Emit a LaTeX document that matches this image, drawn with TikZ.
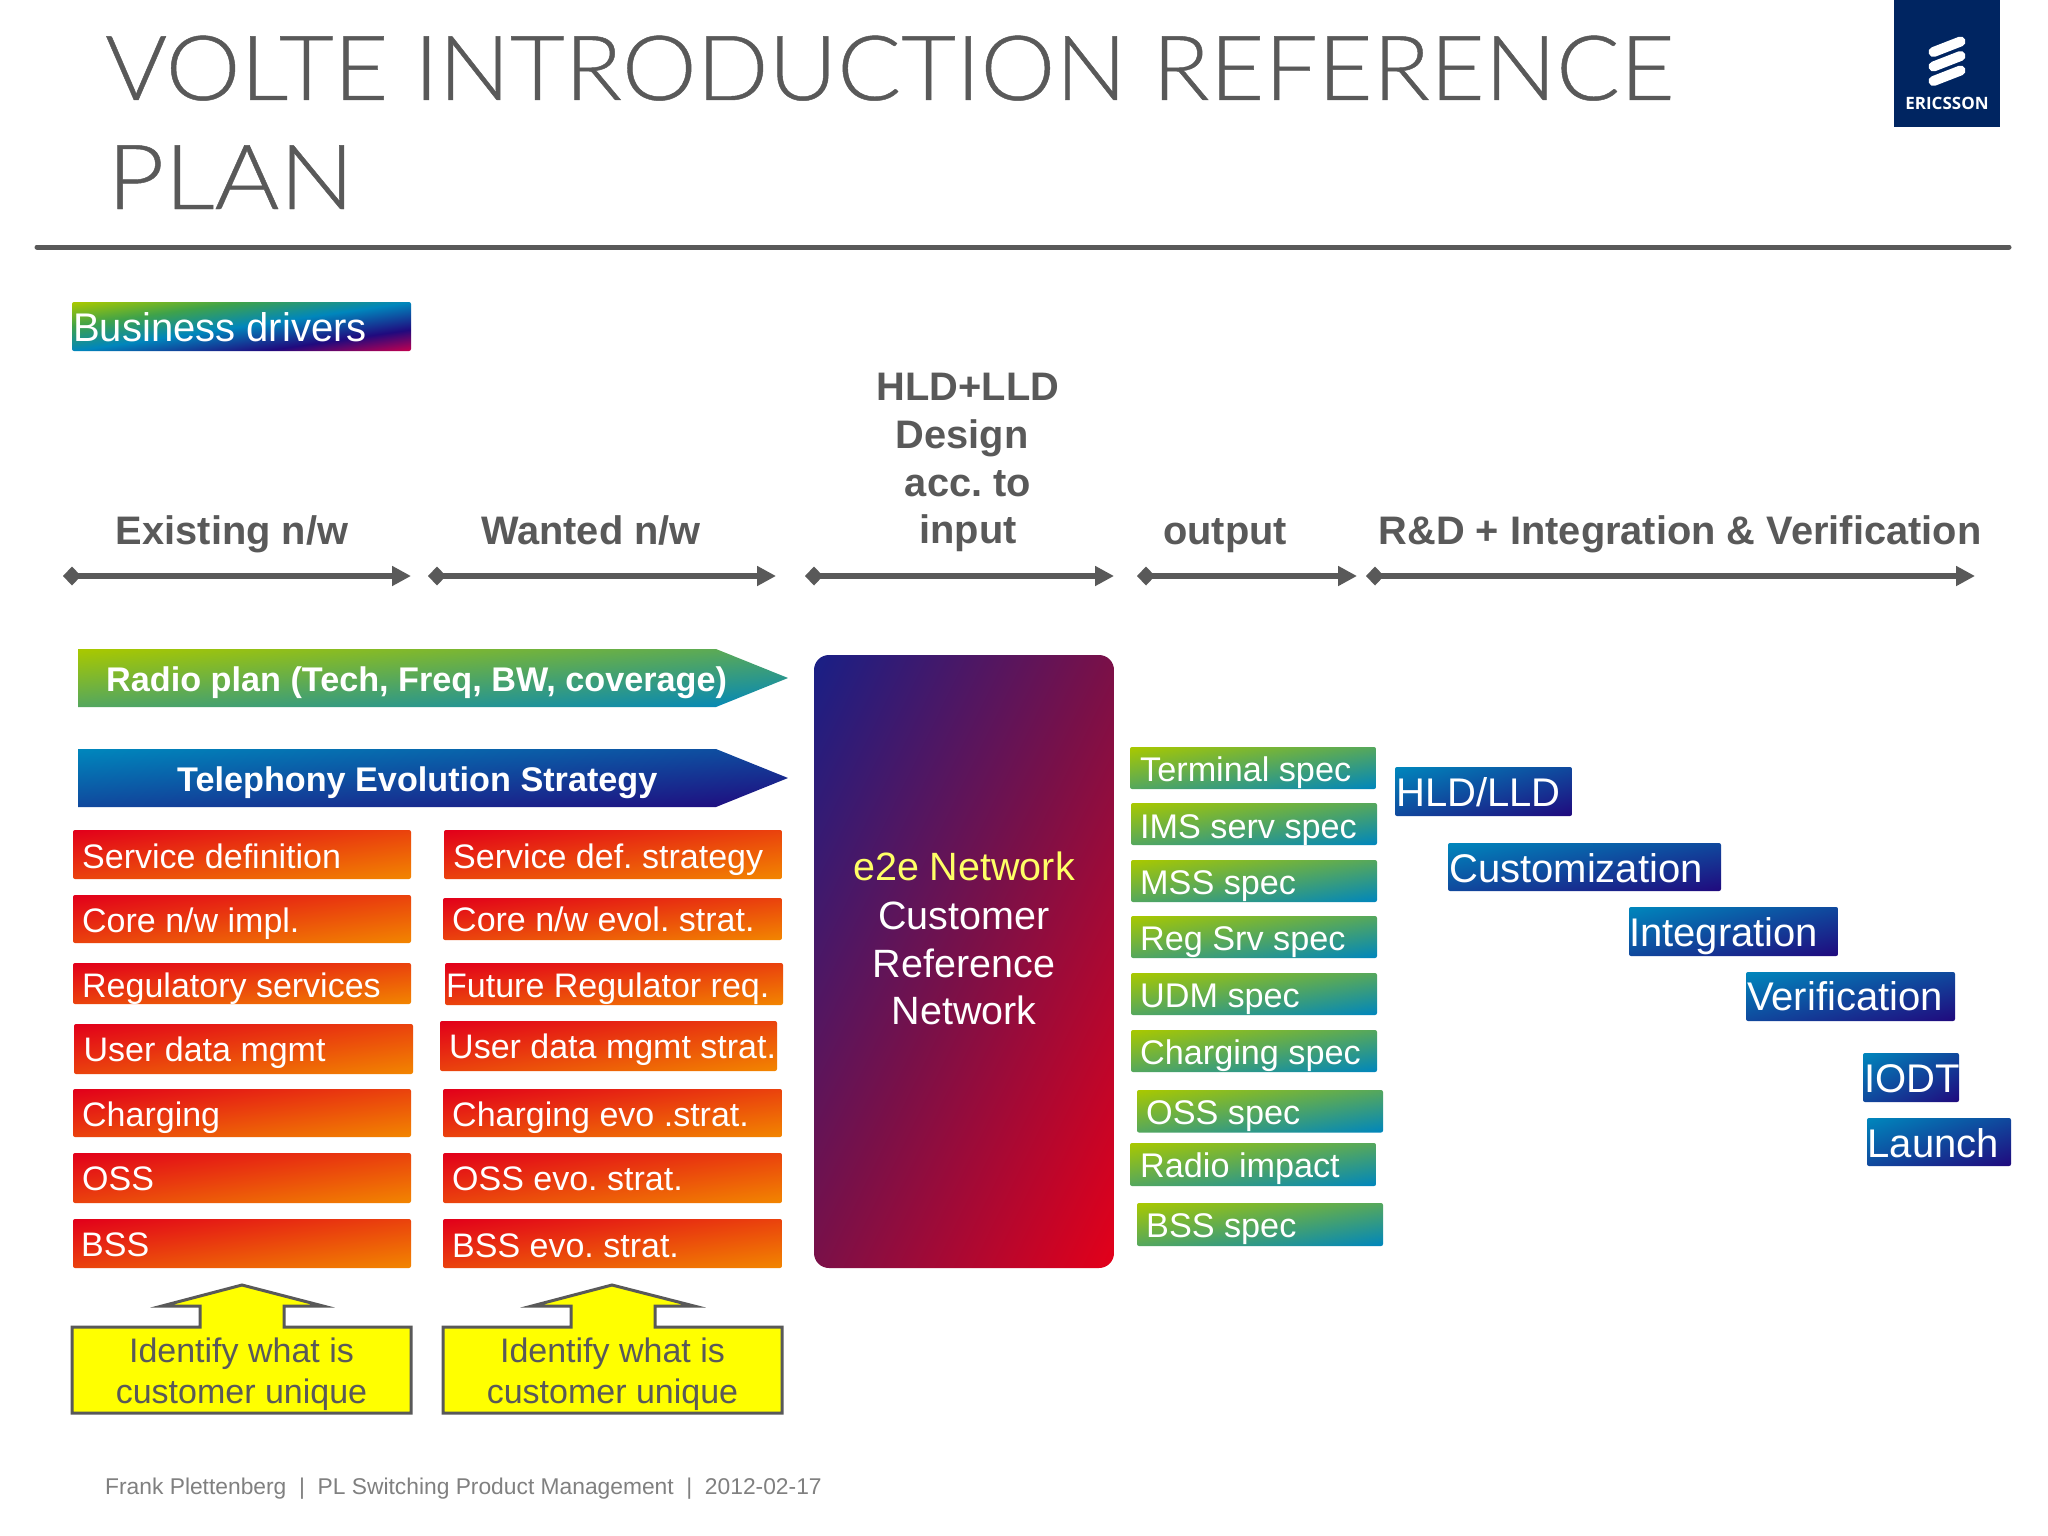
\documentclass[tikz,border=0pt]{standalone}
\usepackage{fontspec}
\setmainfont{Liberation Sans}
\newfontfamily\titlefont[FakeStretch=1.05,FakeBold=0.5]{Lato Light}
\newfontfamily\titlefontb[FakeStretch=1.1,FakeBold=0.5]{Lato Light}
\newfontfamily\logofont{Open Sans}
\usetikzlibrary{arrows.meta}
\definecolor{gr}{HTML}{595959}
\definecolor{lime}{HTML}{A8C800}
\definecolor{grn}{HTML}{3FA24A}
\definecolor{teal}{HTML}{0086BC}
\definecolor{navy}{HTML}{200A7E}
\definecolor{mag}{HTML}{C00050}
\definecolor{red}{HTML}{E2001A}
\definecolor{org}{HTML}{F28500}
\definecolor{dkblue}{HTML}{1A1F85}
\definecolor{midp}{HTML}{7A1048}
\definecolor{logoblue}{HTML}{002561}
\definecolor{yel}{HTML}{FFFF00}
\definecolor{paleyel}{HTML}{FFFF66}
\pgfdeclarehorizontalshading{redsh}{100bp}{color(0bp)=(red); color(15bp)=(red); color(85bp)=(org); color(100bp)=(org)}
\pgfdeclarehorizontalshading{grnsh}{100bp}{color(0bp)=(lime); color(15bp)=(lime); color(85bp)=(teal); color(100bp)=(teal)}
\pgfdeclarehorizontalshading{blusg}{100bp}{color(0bp)=(teal); color(15bp)=(teal); color(85bp)=(navy); color(100bp)=(navy)}
\pgfdeclarehorizontalshading{rainsh}{100bp}{color(0bp)=(lime); color(15bp)=(lime); color(32bp)=(grn); color(50bp)=(teal); color(70bp)=(navy); color(85bp)=(mag); color(100bp)=(mag)}
\pgfdeclarehorizontalshading{mainsh}{100bp}{color(0bp)=(dkblue); color(15bp)=(dkblue); color(50bp)=(midp); color(85bp)=(red); color(100bp)=(red)}
\tikzset{
  txt/.style={anchor=base west,inner sep=0pt,text=white},
  redtxt/.style={txt,font=\fontsize{34}{41}\selectfont},
  grntxt/.style={txt,font=\fontsize{34.2}{40}\selectfont},
  blutxt/.style={txt,font=\fontsize{40}{47}\selectfont},
  head/.style={anchor=base,inner sep=0pt,text=gr,font=\fontsize{39.8}{48}\selectfont\bfseries},
  span/.style={draw=gr,line width=5.5pt,{Diamond[length=18pt,width=19pt]}-{Triangle[length=19pt,width=19pt]}},
  callout/.style={draw=gr,fill=yel,line width=3pt,line join=miter},
  calltxt/.style={anchor=base,inner sep=0pt,text=gr,font=\fontsize{34}{41}\selectfont},
  e2e/.style={anchor=base,inner sep=0pt,text=white,font=\fontsize{39.5}{48}\selectfont},
  arrtxt/.style={anchor=base west,inner sep=0pt,text=white,font=\fontsize{34.2}{40}\selectfont\bfseries}
}
% gradient running corner to corner, stretched to the box, clipped to the outline #6
\newcommand{\gshade}[6]{%
  \begin{scope}
    \clip #6;
    \begin{scope}[transform canvas={shift={({(#2+#4)/2},{(#3+#5)/2})},xscale={(#4-#2)/100},yscale={(#5-#3)/100}}]
      \shade[shading=#1,shading angle=-45] (-50,-50) rectangle (50,50);
    \end{scope}
  \end{scope}}
\newcommand{\gbox}[9]{%
  \gshade{#1}{#3}{#4}{#5}{#6}{[rounded corners=2pt] (#3,#4) rectangle (#5,#6)}
  \node[#2] (#7) at #8 {#9};}
\begin{document}
\begin{tikzpicture}[x=1pt,y=-1pt]
\frenchspacing
\useasboundingbox (0,0) rectangle (2048,1536);
\fill[white] (0,0) rectangle (2048,1536);
% title
\node[anchor=base west,inner sep=0pt,text=gr,font=\fontsize{90}{90}\selectfont\titlefont] (t1) at (105,100) {VOLTE INTRODUCTION REFERENCE};
\node[anchor=base west,inner sep=0pt,text=gr,font=\fontsize{90}{90}\selectfont\titlefontb] (t2) at (107,209) {PLAN};
\coordinate (ra) at (37,247); \coordinate (rb) at (2009,247);
\draw[gr,line width=5pt,line cap=round] (ra) -- (rb);
% logo
\fill[logoblue] (1894,0) rectangle (2000,127);
\foreach \d in {0,14.5,29} {\draw[white,line width=10pt,line cap=round] (1933.5,52+\d) -- (1960.5,41.5+\d);}
\node[anchor=base,inner sep=0pt,text=white,font=\fontsize{17}{17}\selectfont\logofont\bfseries] (logo) at (1947,109.5) {ERICSSON};
% business drivers
\gbox{rainsh}{blutxt}{72}{302}{411}{351}{biz}{(73,341)}{Business drivers}
% headers
\node[head] (h1) at (232,544) {Existing n/w};
\node[head] (h2) at (591,544) {Wanted n/w};
\node[head] (h3a) at (968,400) {HLD+LLD};
\node[head] (h3b) at (962,448) {Design};
\node[head] (h3c) at (968,496) {acc. to};
\node[head] (h3d) at (968,543) {input};
\node[head] (h4) at (1225,544) {output};
\node[head] (h5) at (1680,544) {R\&D + Integration \& Verification};
\coordinate (a1) at (63,576); \coordinate (b1) at (411,576);
\coordinate (a2) at (428,576); \coordinate (b2) at (776,576);
\coordinate (a3) at (805,576); \coordinate (b3) at (1114,576);
\coordinate (a4) at (1137,576); \coordinate (b4) at (1357,576);
\coordinate (a5) at (1366,576); \coordinate (b5) at (1975,576);
\draw[span] (a1) -- (b1);
\draw[span] (a2) -- (b2);
\draw[span] (a3) -- (b3);
\draw[span] (a4) -- (b4);
\draw[span] (a5) -- (b5);
% big arrows
\gshade{grnsh}{78}{649}{788}{707}{(78,649) -- (716,649) -- (788,678) -- (716,707) -- (78,707) -- cycle}
\node[arrtxt] (radio) at (106,691) {Radio plan (Tech, Freq, BW, coverage)};
\gshade{blusg}{78}{749}{788}{807}{(78,749) -- (716,749) -- (788,778) -- (716,807) -- (78,807) -- cycle}
\node[arrtxt] (tel) at (177,791) {Telephony Evolution Strategy};
% red left
\gbox{redsh}{redtxt}{73}{830}{411}{879}{l1}{(82,868)}{Service definition}
\gbox{redsh}{redtxt}{73}{895}{411}{943}{l2}{(82,932)}{Core n/w impl.}
\gbox{redsh}{redtxt}{73}{963}{411}{1004}{l3}{(82,997)}{Regulatory services}
\gbox{redsh}{redtxt}{74}{1024}{413}{1074}{l4}{(83.5,1061)}{User data mgmt}
\gbox{redsh}{redtxt}{73}{1089}{411}{1137}{l5}{(82,1126)}{Charging}
\gbox{redsh}{redtxt}{73}{1153}{411}{1203}{l6}{(82,1190)}{OSS}
\gbox{redsh}{redtxt}{73}{1219}{411}{1268}{l7}{(81,1256)}{BSS}
% red right
\gbox{redsh}{redtxt}{444}{830}{782}{879}{r1}{(453,868)}{Service def. strategy}
\gbox{redsh}{redtxt}{443}{898}{782}{940}{r2}{(452,931)}{Core n/w evol. strat.}
\gbox{redsh}{redtxt}{445}{963}{783}{1005}{r3}{(446,997)}{Future Regulator req.}
\gbox{redsh}{redtxt}{440}{1021}{777}{1071}{r4}{(449,1058)}{User data mgmt strat.}
\gbox{redsh}{redtxt}{443}{1089}{782}{1137}{r5}{(452,1126)}{Charging evo .strat.}
\gbox{redsh}{redtxt}{443}{1153}{782}{1203}{r6}{(452,1190)}{OSS evo. strat.}
\gbox{redsh}{redtxt}{443}{1219}{782}{1268}{r7}{(452,1257)}{BSS evo. strat.}
% callouts
\draw[callout] (72,1327) -- (200,1327) -- (200,1306) -- (162,1306) -- (242,1285) -- (323,1306) -- (284,1306) -- (284,1327) -- (411,1327) -- (411,1413) -- (72,1413) -- cycle;
\node[calltxt] (c1a) at (241.5,1362) {Identify what is};
\node[calltxt] (c1b) at (241.5,1403) {customer unique};
\draw[callout] (443,1327) -- (571,1327) -- (571,1306) -- (532,1306) -- (612,1285) -- (694,1306) -- (655,1306) -- (655,1327) -- (782,1327) -- (782,1413) -- (443,1413) -- cycle;
\node[calltxt] (c2a) at (612.5,1362) {Identify what is};
\node[calltxt] (c2b) at (612.5,1403) {customer unique};
% main
\gshade{mainsh}{814}{655}{1114}{1268}{[rounded corners=15pt] (814,655) rectangle (1114,1268)}
\node[e2e,text=paleyel] (m1) at (964,880) {e2e Network};
\node[e2e] (m2) at (964,929) {Customer};
\node[e2e] (m3) at (964,977) {Reference};
\node[e2e] (m4) at (964,1024) {Network};
% green
\gbox{grnsh}{grntxt}{1130}{747}{1376}{789}{g1}{(1140,781)}{Terminal spec}
\gbox{grnsh}{grntxt}{1131}{803}{1377}{845}{g2}{(1140,838)}{IMS serv spec}
\gbox{grnsh}{grntxt}{1131}{860}{1377}{902}{g3}{(1140,894)}{MSS spec}
\gbox{grnsh}{grntxt}{1131}{916}{1377}{958}{g4}{(1140,950)}{Reg Srv spec}
\gbox{grnsh}{grntxt}{1131}{973}{1377}{1015}{g5}{(1140,1007)}{UDM spec}
\gbox{grnsh}{grntxt}{1131}{1030}{1377}{1072}{g6}{(1140,1064)}{Charging spec}
\gbox{grnsh}{grntxt}{1137}{1090}{1383}{1132.5}{g7}{(1146,1124)}{OSS spec}
\gbox{grnsh}{grntxt}{1130}{1143}{1376}{1186}{g8}{(1140,1177)}{Radio impact}
\gbox{grnsh}{grntxt}{1137}{1203}{1383}{1246}{g9}{(1146,1237)}{BSS spec}
% blue
\gbox{blusg}{blutxt}{1395}{767}{1572}{816}{b1n}{(1396,806)}{HLD/LLD}
\gbox{blusg}{blutxt}{1448}{843}{1721}{891}{b2n}{(1449,882)}{Customization}
\gbox{blusg}{blutxt}{1629}{907}{1838}{956}{b3n}{(1629,946)}{Integration}
\gbox{blusg}{blutxt}{1746}{972}{1955}{1021}{b4n}{(1747,1010)}{Verification}
\gbox{blusg}{blutxt}{1863}{1053}{1959}{1102}{b5n}{(1864,1092)}{IODT}
\gbox{blusg}{blutxt}{1867}{1118}{2011}{1166}{b6n}{(1867.5,1157)}{Launch}
% footer
\node[anchor=base west,inner sep=0pt,text=gray,font=\fontsize{22.8}{28}\selectfont] (foot) at (105,1494) {Frank Plettenberg\ \ |\ \ PL Switching Product Management\ \ |\ \ 2012-02-17};
\end{tikzpicture}
\end{document}
